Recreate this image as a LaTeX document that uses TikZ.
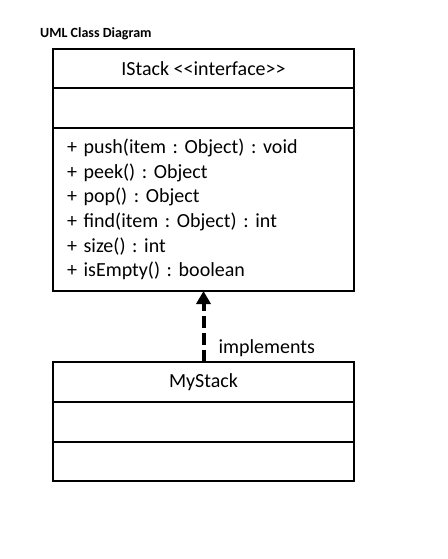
\documentclass[tikz,border=0pt]{standalone}
\usepackage{fontspec}
\setmainfont{Carlito}
\frenchspacing
\usetikzlibrary{arrows.meta, positioning}
\tikzset{
	compart/.style={rectangle, draw, line width=2pt, outer sep=0pt, inner sep=0pt,
		minimum width=301pt, font=\fontsize{20}{24.7}\selectfont},
	title/.style={font=\fontsize{14}{16}\bfseries\selectfont, inner sep=0pt},
	methods/.style={compart, align=left, text width=273pt},
	implarrow/.style={draw, line width=4pt, dash pattern=on 12pt off 5pt,
		-{Triangle[width=14pt, length=13pt]}}
}
\begin{document}
\begin{tikzpicture}[x=1pt, y=1pt]
	\useasboundingbox (0,0) rectangle (447,-559);
	% Heading
	\node[title, anchor=base west] (heading) at (40,-38) {UML Class Diagram};
	
	% Interface IStack
	\node[compart, minimum height=39pt, anchor=north west] (istack-name) at (53,-49) {IStack {<}{<}interface{>}{>}};
	\node[compart, minimum height=40pt, below=0pt of istack-name] (istack-attr) {};
	\node[methods, minimum height=163pt, below=0pt of istack-attr] (istack-ops) {%
		+ push(item : Object) : void\\
		+ peek() : Object\\
		+ pop() : Object\\
		+ find(item : Object) : int\\
		+ size() : int\\
		+ isEmpty() : boolean};
	
	% Class MyStack
	\node[compart, minimum height=40pt, below=71pt of istack-ops] (mystack-name) {MyStack};
	\node[compart, minimum height=40pt, below=0pt of mystack-name] (mystack-attr) {};
	\node[compart, minimum height=39pt, below=0pt of mystack-attr] (mystack-ops) {};
	
	% Realization
	\draw[implarrow] (mystack-name.north) -- (istack-ops.south)
		node[pos=0.2, right=13pt, font=\fontsize{20}{24}\selectfont, inner sep=0pt] (impl) {implements};
\end{tikzpicture}
\end{document}
